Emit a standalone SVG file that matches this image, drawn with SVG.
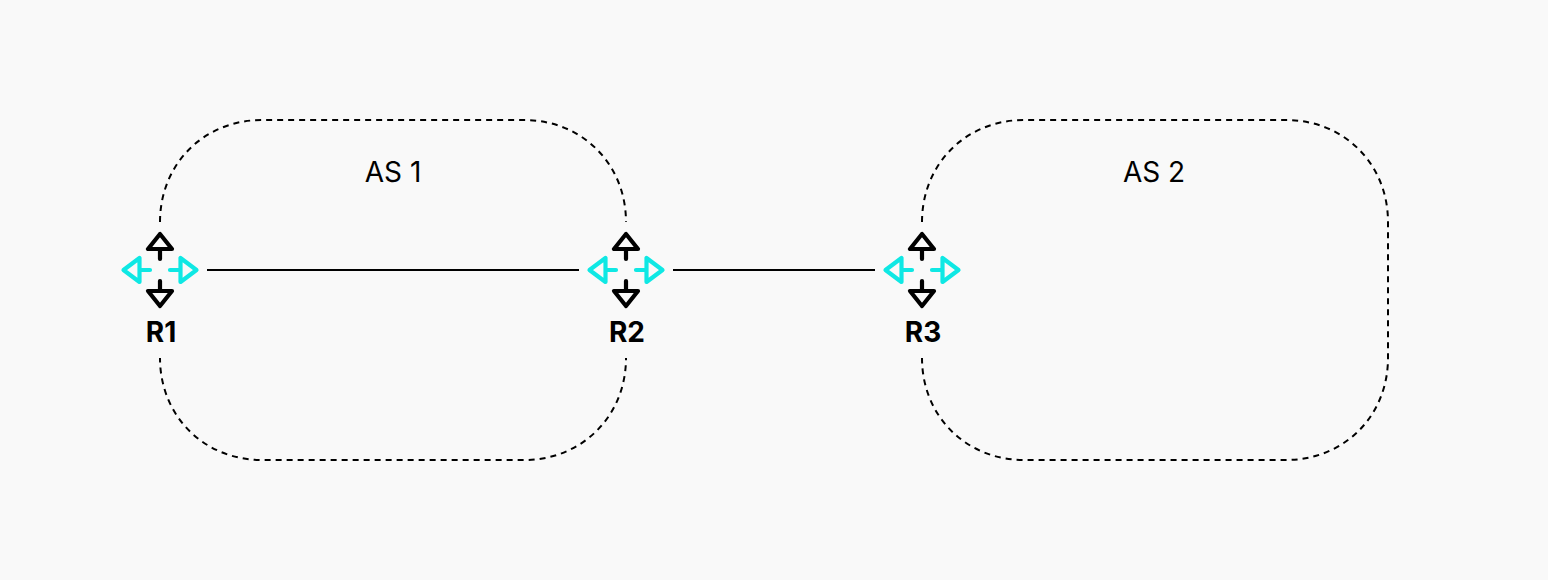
<svg xmlns="http://www.w3.org/2000/svg" width="1548" height="580" viewBox="0 0 1548 580">
<style>
.bg{fill:#f9f9f9}
.as{fill:none;stroke:#000;stroke-width:2;stroke-dasharray:6 5}
.link{fill:none;stroke:#000;stroke-width:2}
.k,.c{fill:none;stroke-width:4.200;stroke-linecap:round;stroke-linejoin:round}
.k{stroke:#000}.c{stroke:#0fe8e4}
text{font-family:Inter,"Liberation Sans",sans-serif;fill:#000;text-anchor:middle}
.as-label{font-size:28px;font-weight:400}
.r-label{font-size:28px;font-weight:700}
</style>
<defs>
<g id="router">
<path class="k" d="M0 -11V-21M-12 -21H12L0 -36Z"/>
<path class="k" d="M0 11V21M-12 21H12L0 36Z"/>
<path class="c" d="M-10 0H-20.500M-20.500 -12V12L-36.500 0Z"/>
<path class="c" d="M10 0H20.500M20.500 -12V12L36.500 0Z"/>
</g>
</defs>
<rect class="bg" width="1548" height="580"/>
<g id="connectors">
<path class="link" d="M207 270H579"/>
<path class="link" d="M673 270H875"/>
</g>
<g id="as1"><path class="as" d="M160 222C160 164 204 120 262 120H524C582 120 626 164 626 222"/><path class="as" stroke-dashoffset="1.500" d="M160 358C160 416 204 460 262 460H524C582 460 626 416 626 358"/><text class="as-label" x="393" y="182">AS 1</text></g>
<g id="as2"><path class="as" d="M922 222C922 164 966 120 1024 120H1286C1344 120 1388 164 1388 222V358C1388 416 1344 460 1286 460H1024C966 460 922 416 922 358"/><text class="as-label" x="1154" y="182">AS 2</text></g>
<g id="r1"><use href="#router" x="160" y="270"/><text class="r-label" x="161" y="342">R1</text></g>
<g id="r2"><use href="#router" x="626" y="270"/><text class="r-label" x="627" y="342">R2</text></g>
<g id="r3"><use href="#router" x="922" y="270"/><text class="r-label" x="923" y="342">R3</text></g>
</svg>
